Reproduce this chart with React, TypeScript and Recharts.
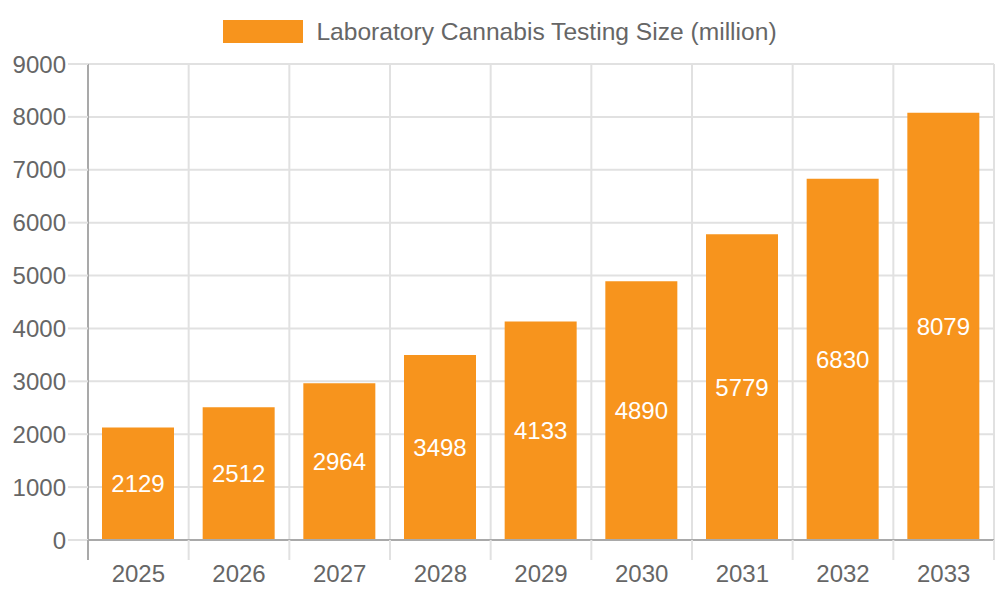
import React from "react";
import { BarChart, Bar, XAxis, YAxis, CartesianGrid, LabelList } from "recharts";

const years = ["2025", "2026", "2027", "2028", "2029", "2030", "2031", "2032", "2033"];
const sizes = [2129, 2512, 2964, 3498, 4133, 4890, 5779, 6830, 8079];
const yTicks = [0, 1000, 2000, 3000, 4000, 5000, 6000, 7000, 8000, 9000];
const seriesName = "Laboratory Cannabis Testing Size (million)";

const data = years.map((y, i) => ({ year: y, value: sizes[i] }));

const FONT = "'Liberation Sans', Arial, Helvetica, sans-serif";
const BAR = "#f7941d";
const GRID = "#e1e1e1";
const AXIS = "#a9a9a9";
const TEXT = "#666666";

const XTick = (props: any) => {
  const { x, y, payload, index } = props;
  const half = payload && payload.offset ? payload.offset : 50.3;
  const last = index === years.length - 1;
  return (
    <g>
      <line x1={x - half} y1={y} x2={x - half} y2={y + 20} stroke={index === 0 ? AXIS : GRID} strokeWidth={2} />
      {last && <line x1={x + half} y1={y} x2={x + half} y2={y + 20} stroke={GRID} strokeWidth={2} />}
      <text x={x} y={y + 42} textAnchor="middle" fill={TEXT} fontSize={24} fontFamily={FONT}>
        {payload.value}
      </text>
    </g>
  );
};

export default function App() {
  return (
    <div style={{ position: "absolute", left: 0, top: 0, width: 1000, height: 600, background: "#fff", fontFamily: FONT }}>
      <div
        style={{
          position: "absolute",
          left: 0,
          top: 20,
          width: 1000,
          height: 23,
          display: "flex",
          justifyContent: "center",
          alignItems: "center",
        }}
      >
        <div style={{ width: 80, height: 23, background: BAR, marginRight: 13 }} />
        <span style={{ fontSize: 24.6, color: TEXT, lineHeight: "23px", whiteSpace: "nowrap" }}>{seriesName}</span>
      </div>
      <BarChart
        width={1000}
        height={600}
        data={data}
        margin={{ top: 64, right: 6, bottom: 0, left: 0 }}
        barSize={72}
        style={{ fontFamily: FONT }}
      >
        <CartesianGrid
          stroke={GRID}
          strokeWidth={2}
          verticalCoordinatesGenerator={({ offset }: any) =>
            years.map((_, i) => offset.left + (i * offset.width) / years.length).concat([offset.left + offset.width])
          }
        />
        <XAxis
          dataKey="year"
          height={60}
          tickSize={0}
          tickMargin={0}
          tickLine={false}
          axisLine={{ stroke: AXIS, strokeWidth: 2 }}
          tick={<XTick />}
          interval={0}
        />
        <YAxis
          width={88}
          domain={[0, 9000]}
          ticks={yTicks}
          interval={0}
          tickSize={20}
          tickMargin={2}
          tickLine={{ stroke: GRID, strokeWidth: 2 }}
          axisLine={{ stroke: AXIS, strokeWidth: 2 }}
          tick={{ fill: TEXT, fontSize: 24, fontFamily: FONT }}
        />
        <Bar dataKey="value" name={seriesName} fill={BAR} isAnimationActive={false}>
          <LabelList dataKey="value" position="center" fill="#ffffff" fontSize={24} fontFamily={FONT} />
        </Bar>
      </BarChart>
    </div>
  );
}
